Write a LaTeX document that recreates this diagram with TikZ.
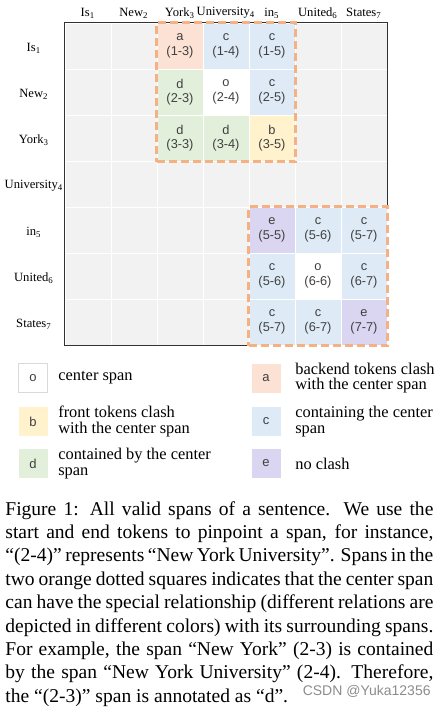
\documentclass[tikz,border=0pt]{standalone}
\usepackage{fontspec}
\setmainfont{Liberation Serif}
\setsansfont{Liberation Sans}
\usepackage{xcolor}
\usepackage{tikz}
\usetikzlibrary{positioning,fit}
\definecolor{SpanGray}{RGB}{242,242,242}
\definecolor{SpanOrange}{RGB}{251,226,213}
\definecolor{SpanBlue}{RGB}{222,235,247}
\definecolor{SpanGreen}{RGB}{226,239,218}
\definecolor{SpanYellow}{RGB}{255,242,204}
\definecolor{SpanPurple}{RGB}{218,213,240}
\definecolor{SpanDash}{RGB}{244,177,131}
\definecolor{SpanText}{RGB}{64,64,64}
\definecolor{SpanEdge}{RGB}{217,217,217}
\definecolor{SpanFrame}{RGB}{50,50,50}

\begin{document}
\begin{tikzpicture}[x=0.5pt,y=-0.5pt,
    cell/.style={minimum width=23pt, minimum height=23pt, inner sep=0pt, draw=white, line width=0.5pt, fill=SpanGray},
    spancell/.style={cell, align=center, font=\sffamily\fontsize{6.4}{7.2}\selectfont, text=SpanText},
    tok/.style={font=\fontsize{6.3}{7}\selectfont, inner sep=0pt},
    spanbox/.style={draw=SpanDash, line width=1.4pt, dash pattern=on 4pt off 2pt, inner sep=0pt},
    legbox/.style={minimum size=14.5pt, inner sep=0pt, font=\sffamily\fontsize{6.5}{7}\selectfont, text=SpanText},
    legtext/.style={anchor=west, align=left, inner sep=0pt, font=\fontsize{8.2}{7.6}\selectfont}
  ]
    \useasboundingbox (0,0) rectangle (446,708);
    % token labels
    \foreach \w [count=\k] in {Is,New,York,University,in,United,States} {
      \node[tok] (col\k) at ({65+46*(\k-0.5)},13) {\w\textsubscript{\k}};
      \node[tok] (row\k) at (34,{25+46*(\k-0.5)}) {\w\textsubscript{\k}};
    }
    % span grid
    \foreach \r in {1,...,7} {
      \foreach \c in {1,...,7} {\node[cell] (g\r\c) at ({65+46*(\c-0.5)},{23+46*(\r-0.5)}) {};}
    }
    \draw[SpanFrame, line width=0.6pt] (g11.north west) rectangle (g77.south east);
    \foreach \r/\c/\t/\col/\lab in {1/3/a/SpanOrange/1-3, 1/4/c/SpanBlue/1-4, 1/5/c/SpanBlue/1-5,
        2/3/d/SpanGreen/2-3, 2/4/o/white/2-4, 2/5/c/SpanBlue/2-5,
        3/3/d/SpanGreen/3-3, 3/4/d/SpanGreen/3-4, 3/5/b/SpanYellow/3-5,
        5/5/e/SpanPurple/5-5, 5/6/c/SpanBlue/5-6, 5/7/c/SpanBlue/5-7,
        6/5/c/SpanBlue/5-6, 6/6/o/white/6-6, 6/7/c/SpanBlue/6-7,
        7/5/c/SpanBlue/5-7, 7/6/c/SpanBlue/6-7, 7/7/e/SpanPurple/7-7} {
      \node[spancell, fill=\col] (s\r\c) at (g\r\c) {\t\\(\lab)};
    }
    \node[spanbox, fit=(s13)(s35)] (box1) {};
    \node[spanbox, fit=(s55)(s77)] (box2) {};
    % legend
    \node[legbox, draw=SpanEdge, line width=0.5pt, fill=white] (lego) at (33,378) {o};
    \node[legtext, right=5pt of lego] (txto) {center span};
    \node[legbox, fill=SpanYellow] (legb) at (33,421.5) {b};
    \node[legtext, right=5pt of legb] (txtb) {front tokens clash\\with the center span};
    \node[legbox, fill=SpanGreen] (legd) at (33,463.5) {d};
    \node[legtext, right=5pt of legd] (txtd) {contained by the center\\span};
    \node[legbox, fill=SpanOrange] (lega) at (266,378) {a};
    \node[legtext, right=7pt of lega] (txta) {backend tokens clash\\with the center span};
    \node[legbox, fill=SpanBlue] (legc) at (266,421.5) {c};
    \node[legtext, right=7pt of legc] (txtc) {containing the center\\span};
    \node[legbox, fill=SpanPurple] (lege) at (266,463.5) {e};
    \node[legtext, right=7pt of lege] (txte) {no clash};
    % caption
    \node[anchor=north west, inner sep=0pt, text width=214pt, align=justify, font=\fontsize{9.77}{11.7}\selectfont] (caption) at (5,501)
      {Figure 1: All valid spans of a sentence. We use the\linebreak
       start and end tokens to pinpoint a span, for instance,\linebreak
       “(2-4)” represents “New York University”. Spans in the\linebreak
       two orange dotted squares indicates that the center span\linebreak
       can have the special relationship (different relations are\linebreak
       depicted in different colors) with its surrounding spans.\linebreak
       For example, the span “New York” (2-3) is contained\linebreak
       by the span “New York University” (2-4). Therefore,\linebreak
       the “(2-3)” span is annotated as “d”.};
    \node[anchor=east, inner sep=0pt, font=\sffamily\fontsize{7}{8}\selectfont, text=black!45] (mark) at (431,691) {CSDN @Yuka12356};
  \end{tikzpicture}
\end{document}
